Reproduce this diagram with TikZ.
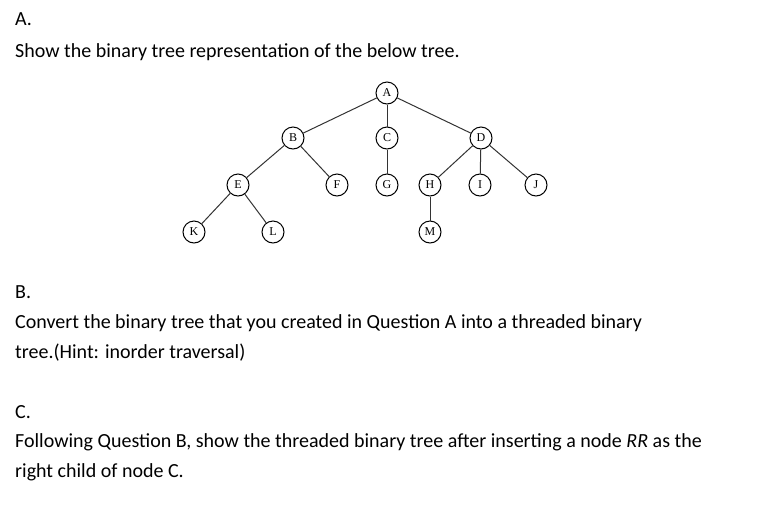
\documentclass[tikz,border=0pt]{standalone}
\usepackage{fontspec}
\setmainfont{Carlito}
\newfontfamily\treefont{Liberation Serif}
\begin{document}
\begin{tikzpicture}[x=1pt,y=-1pt,
  txt/.style={anchor=west,inner sep=0pt,font=\fontsize{20}{22}\selectfont},
  tn/.style={circle,draw,line width=1pt,minimum size=22pt,inner sep=0pt,font=\treefont\fontsize{12}{13}\selectfont},
  edge/.style={line width=1pt,draw=black!80}]
\useasboundingbox (0,0) rectangle (757,512);
\node[txt] (ta) at (15,19) {A.};
\node[txt] (ta2) at (15,52) {Show the binary tree representation of the below tree.};
\node[txt] (tb) at (15,292) {B.};
\node[txt] (tb2) at (15,323) {Convert the binary tree that you created in Question A into a threaded binary};
\node[txt] (tb3) at (15,353) {tree.(Hint: inorder traversal)};
\node[txt] (tc) at (15,412) {C.};
\node[txt] (tc2) at (15,442) {Following Question B, show the threaded binary tree after inserting a node \textit{RR} as the};
\node[txt] (tc3) at (15,472) {right child of node C.};
\node[tn] (A) at (387,93) {A};
\node[tn] (B) at (293,138) {B};
\node[tn] (C) at (387,138) {C};
\node[tn] (D) at (481,138) {D};
\node[tn] (E) at (238,185) {E};
\node[tn] (F) at (337,185) {F};
\node[tn] (G) at (387,185) {G};
\node[tn] (H) at (430,185) {H};
\node[tn] (I) at (480,185) {I};
\node[tn] (J) at (536,185) {J};
\node[tn] (K) at (194,232) {K};
\node[tn] (L) at (273,232) {L};
\node[tn] (M) at (430,232) {M};
\foreach \a/\b in {A/B,A/C,A/D,B/E,B/F,C/G,D/H,D/I,D/J,E/K,E/L,H/M}
  \draw[edge] (\a) -- (\b);
\end{tikzpicture}
\end{document}
